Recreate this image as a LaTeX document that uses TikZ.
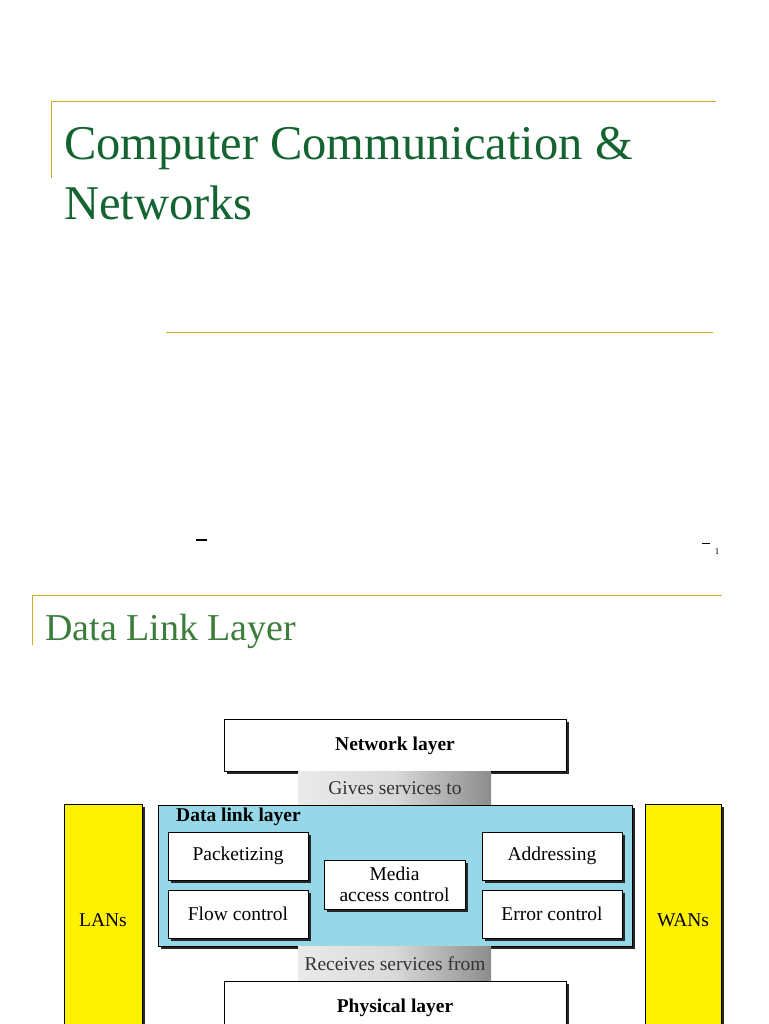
\documentclass[tikz,border=0pt]{standalone}
\usepackage{fontspec}
\setmainfont{Liberation Serif}
\begin{document}
\begin{tikzpicture}[x=1pt,y=-1pt,
  box/.style={draw=black,line width=0.8pt,fill=white},
  sh/.style={fill=black!85},
  lbl/.style={font=\fontsize{19.5}{21}\selectfont,align=center,inner sep=0pt}]
\useasboundingbox (0,0) rectangle (768,1024);
\definecolor{tgreen}{RGB}{20,100,50}
\definecolor{dgreen}{RGB}{60,125,60}
\definecolor{dblue}{RGB}{150,215,232}
\definecolor{goldc}{RGB}{212,170,40}
\tikzset{gold/.style={draw=goldc,line width=1pt}}
% slide 1
\draw[gold] (51,178) -- (51,102) -- (716,102);
\draw[gold] (166,332) -- (713,332);
\node[anchor=base west,text=tgreen,font=\fontsize{48.5}{56}\selectfont,inner sep=0pt] (t1) at (64,160) {Computer Communication \&};
\node[anchor=base west,text=tgreen,font=\fontsize{48.5}{56}\selectfont,inner sep=0pt] (t2) at (64,219) {Networks};
\draw[line width=1.6pt] (196,540) -- (207,540);
\draw[line width=0.6pt] (702,543) -- (710,543);
\node[anchor=base,font=\fontsize{9}{10}\selectfont,inner sep=0pt] (pg) at (717,554) {1};
% slide 2
\draw[gold] (32,645) -- (32,595) -- (722,595);
\node[anchor=base west,text=dgreen,font=\fontsize{38}{44}\selectfont,inner sep=0pt] (t3) at (45,640) {Data Link Layer};
% side bars
\fill[sh] (67,807) rectangle (145,1024);
\draw[line width=0.8pt,fill=yellow] (64,804) rectangle (142,1030);
\node[lbl] (lan) at (103,920) {LANs};
\fill[sh] (648,807) rectangle (724,1024);
\draw[line width=0.8pt,fill=yellow] (645,804) rectangle (721,1030);
\node[lbl] (wan) at (683,920) {WANs};
% network layer
\fill[sh] (227,722) rectangle (569,774);
\draw[box] (224,719) rectangle (566,771);
\node[lbl,font=\fontsize{19.5}{21}\selectfont\bfseries] (net) at (395,746) {Network layer};
% gives
\shade[left color=white!92!black,right color=black!45,middle color=white!85!black] (298,771) rectangle (491,805);
\node[lbl,text=black!80] (gives) at (395,788) {Gives services to};
% data link
\fill[sh] (161,808) rectangle (635,949);
\draw[line width=0.8pt,fill=dblue] (158,805) rectangle (632,946);
\node[lbl,anchor=west,font=\fontsize{19.5}{21}\selectfont\bfseries] (dll) at (176,817) {Data link layer};
\foreach \n/\a/\b/\c/\d/\t in {pk/168/832/308/880/Packetizing, fc/168/890/308/938/Flow control, ad/482/832/622/880/Addressing, ec/482/890/622/938/Error control, ma/324/860/465/909/{Media\\access control}}{
  \fill[sh] (\a+3,\b+3) rectangle (\c+3,\d+3);
  \draw[box] (\a,\b) rectangle (\c,\d);
  \node[lbl] (\n) at ({(\a+\c)/2},{(\b+\d)/2}) {\t};
}
% receives
\shade[left color=white!92!black,right color=black!45,middle color=white!85!black] (298,946) rectangle (491,981);
\node[lbl,text=black!80] (recv) at (395,964) {Receives services from};
% physical
\fill[sh] (227,984) rectangle (569,1030);
\draw[box] (224,981) rectangle (566,1030);
\node[lbl,font=\fontsize{19.5}{21}\selectfont\bfseries] (phy) at (395,1008) {Physical layer};
\end{tikzpicture}
\end{document}
